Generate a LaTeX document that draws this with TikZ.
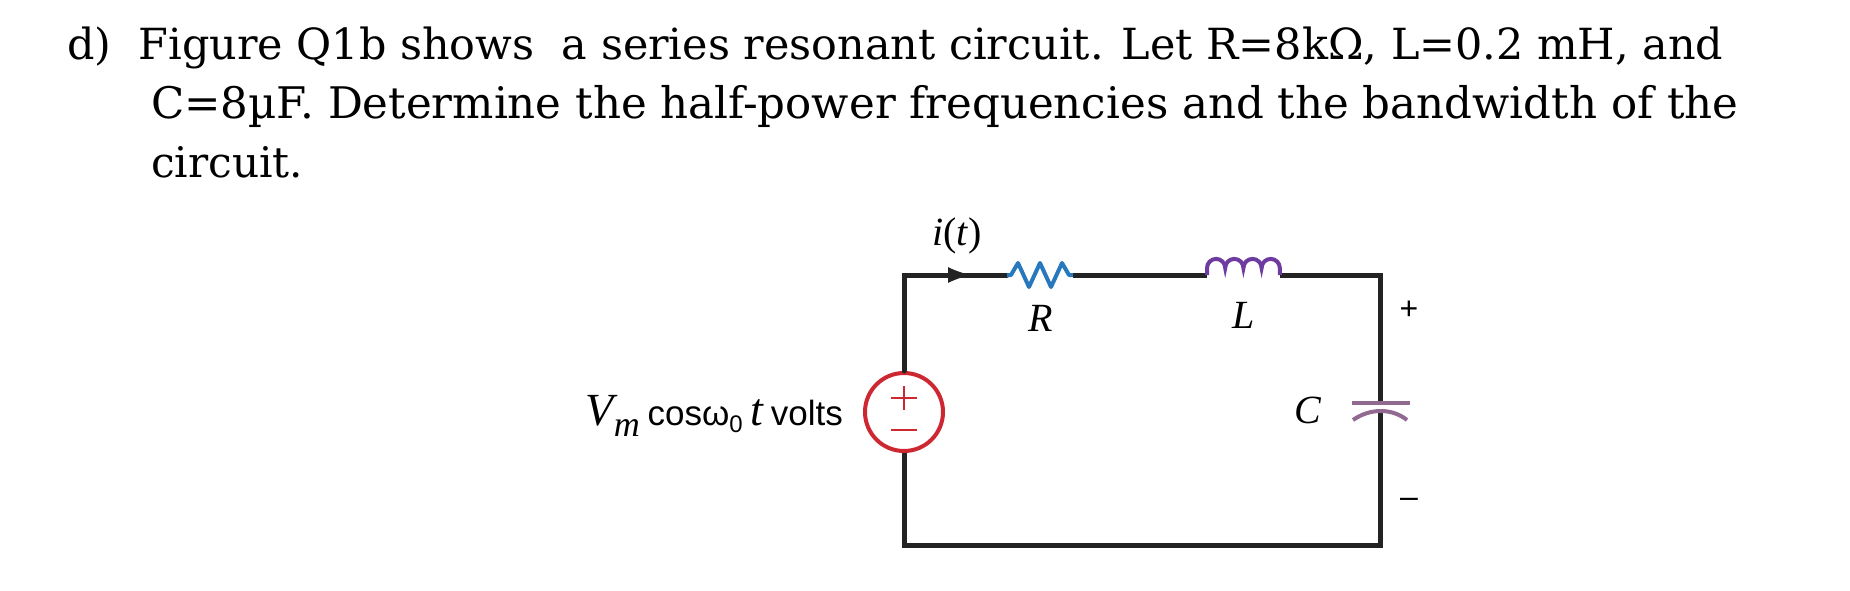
\documentclass[tikz,border=0pt]{standalone}
\usepackage{fontspec}
\setmainfont{Liberation Serif}
\newfontfamily\sansf{Liberation Sans}
\newfontfamily\cambr{DejaVu Serif}
\usetikzlibrary{arrows.meta}
\definecolor{wire}{RGB}{35,35,35}
\definecolor{resc}{RGB}{40,120,190}
\definecolor{indc}{RGB}{110,60,160}
\definecolor{srcc}{RGB}{205,40,50}
\definecolor{capc}{RGB}{145,105,145}
\begin{document}
\begin{tikzpicture}[x=1pt,y=-1pt,
  wirest/.style={draw=wire,line width=5pt},
  txt/.style={inner sep=0pt,font=\fontsize{40}{44}\selectfont\itshape},
  qline/.style={inner sep=0pt,anchor=base west}]
\useasboundingbox[fill=white] (0,0) rectangle (1850,590);
% question text
\node[qline] (l1) at (67,59) {\resizebox{1656pt}{!}{\cambr d)\ \ Figure Q1b shows \ a series resonant circuit. Let R=8kΩ, L=0.2 mH, and}};
\node[qline] (l2) at (151,118) {\resizebox{1587pt}{!}{\cambr C=8µF. Determine the half-power frequencies and the bandwidth of the}};
\node[qline] (l3) at (151,177) {\resizebox{152pt}{!}{\cambr circuit.}};
% corners
\coordinate (tl) at (904,275);
\coordinate (tr) at (1380,275);
\coordinate (bl) at (904,545);
\coordinate (br) at (1380,545);
\coordinate (r1) at (1007,275);
\coordinate (r2) at (1073,275);
\coordinate (i1) at (1207,275);
\coordinate (i2) at (1280,275);
\coordinate (ar) at (970,275);
\coordinate (ct) at (1380,403);
\coordinate (cb) at (1380,412);
\node[circle,draw=srcc,line width=4pt,minimum size=78pt,inner sep=0pt] (src) at (904,412) {};
% wires
\draw[wirest,line cap=round,line join=miter] (src.north) -- (tl) -- (r1);
\draw[wirest] (r2) -- (i1);
\draw[wirest,line join=miter] (i2) -- (tr) -- (ct);
\draw[wirest,line join=miter] (cb) -- (br) -- (bl) -- (src.south);
\draw[wire,-{Latex[length=22pt,width=16pt]},line width=1pt] (950,275) -- (ar);
% resistor
\draw[resc,line width=4pt,line join=round] (r1) -- (1011,275) -- (1018,263) -- (1029,287) -- (1040,263) -- (1051,287) -- (1062,263) -- (1069,275) -- (r2);
% inductor
\draw[indc,line width=4pt] (i1) -- (1207,268) arc(180:360:9.1) arc(180:360:9.1) arc(180:360:9.1) arc(180:360:9.1) -- (i2);
% capacitor
\draw[capc,line width=4pt] (1352,403) -- (1410,403);
\draw[capc,line width=4pt] (1353,420) .. controls (1370,408) and (1392,408) .. (1407,420);
% source signs
\draw[srcc,line width=2.5pt] (891,398) -- (917,398) (904,386) -- (904,410);
\draw[srcc,line width=2.5pt] (891,430) -- (917,430);
% labels
\node[txt] (it) at (957,236) {i\/\upshape(\itshape t\/\upshape)};
\node[txt] (rl) at (1041,318) {R};
\node[txt] (ll) at (1244,315) {L};
\node[txt] (cl) at (1308,410) {C};
\node[txt,font=\sansf\fontsize{32}{36}\selectfont] (pl) at (1409,310) {+};
\node[txt,font=\sansf\fontsize{32}{36}\selectfont] (mi) at (1409,503) {–};
\node[inner sep=0pt,anchor=base east] (vl) at (843,425) {\fontsize{46}{48}\selectfont\itshape V\raisebox{-11pt}{\fontsize{36}{40}\selectfont m}\,{\sansf\upshape\fontsize{35}{40}\selectfont cosω\raisebox{-7pt}{\fontsize{24}{28}\selectfont 0}}\,t\,{\sansf\upshape\fontsize{35}{40}\selectfont volts}};
\end{tikzpicture}
\end{document}
